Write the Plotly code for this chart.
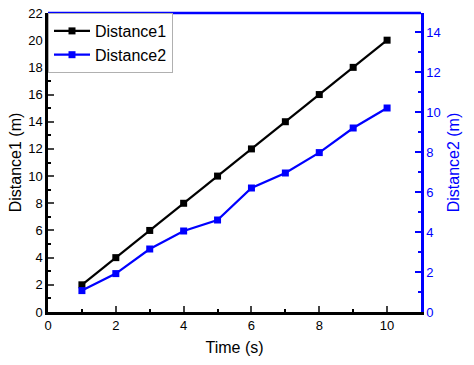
import plotly.graph_objects as go

time_s = [1, 2, 3, 4, 5, 6, 7, 8, 9, 10]
distance1 = [2, 4, 6, 8, 10, 12, 14, 16, 18, 20]
distance2 = [1.07, 1.92, 3.15, 4.05, 4.6, 6.2, 6.95, 7.97, 9.2, 10.2]

x_ticks = [0, 2, 4, 6, 8, 10]
y1_ticks = [0, 2, 4, 6, 8, 10, 12, 14, 16, 18, 20, 22]
y2_ticks = [0, 2, 4, 6, 8, 10, 12, 14]

FONT = "Liberation Sans, Arial, sans-serif"
BLUE = "#0000ff"

fig = go.Figure()
fig.add_trace(go.Scatter(x=time_s, y=distance1, name="Distance1", mode="lines+markers",
                         line=dict(color="black", width=2.2),
                         marker=dict(symbol="square", size=7, color="black")))
fig.add_trace(go.Scatter(x=time_s, y=distance2, name="Distance2", mode="lines+markers",
                         yaxis="y2",
                         line=dict(color=BLUE, width=2.2),
                         marker=dict(symbol="square", size=7, color=BLUE)))

fig.update_layout(
    width=474, height=365,
    margin=dict(l=48, r=53, t=13, b=53, autoexpand=False),
    plot_bgcolor="white", paper_bgcolor="white",
    font=dict(family=FONT, size=13, color="black"),
    showlegend=True,
    legend=dict(x=0, y=1, xanchor="left", yanchor="top",
                bgcolor="white", bordercolor="#b0b0b0", borderwidth=1,
                font=dict(size=16, family=FONT), itemwidth=36,
                tracegroupgap=0),
    xaxis=dict(range=[0, 11], tickvals=x_ticks, ticks="inside", ticklen=6, tickwidth=2,
               showline=True, linecolor="black", linewidth=2.5, showgrid=False, zeroline=False,
               minor=dict(dtick=1, ticks="inside", ticklen=3, tickwidth=2, tickcolor="black"),
               title=dict(text="Time (s)", font=dict(size=16), standoff=10),
               tickfont=dict(size=13), automargin=False),
    yaxis=dict(range=[0, 22], tickvals=y1_ticks, ticks="inside", ticklen=6, tickwidth=2,
               showline=True, linecolor="black", linewidth=2.5, showgrid=False, zeroline=False,
               minor=dict(dtick=1, ticks="inside", ticklen=3, tickwidth=2, tickcolor="black"),
               title=dict(text="Distance1 (m)", font=dict(size=16), standoff=3),
               tickfont=dict(size=13), automargin=False),
    yaxis2=dict(range=[0, 14.95], tickvals=y2_ticks, overlaying="y", side="right",
                ticks="inside", ticklen=6, tickwidth=2, tickcolor=BLUE,
                showline=True, linecolor=BLUE, linewidth=2.5, showgrid=False, zeroline=False,
                minor=dict(dtick=1, ticks="inside", ticklen=3, tickwidth=2, tickcolor=BLUE),
                title=dict(text="Distance2 (m)", font=dict(size=16, color=BLUE), standoff=8),
                tickfont=dict(size=13, color=BLUE), automargin=False),
    shapes=[dict(type="line", xref="paper", yref="paper", x0=0, x1=1, y0=1, y1=1,
                 line=dict(color=BLUE, width=2.5))],
)

fig.write_html("out.html", config={"displayModeBar": False},
               post_script="document.body.style.margin='0';")
